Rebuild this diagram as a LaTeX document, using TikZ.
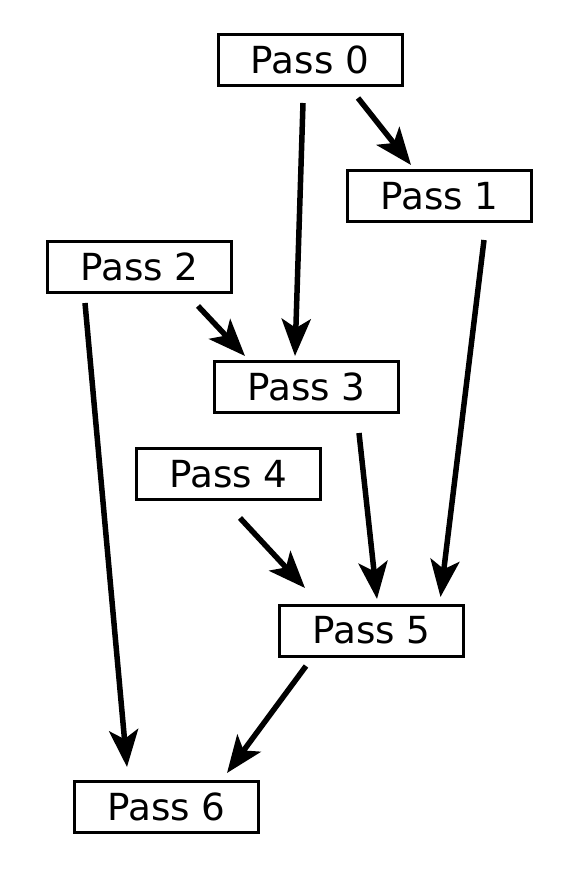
\documentclass[tikz,border=0pt]{standalone}
\usepackage{fontspec}
\setmainfont{DejaVu Sans}
\usetikzlibrary{arrows.meta}

\begin{document}
\begin{tikzpicture}[x=1pt, y=-1pt,
  pass/.style={draw, line width=3pt, minimum width=184pt, minimum height=51pt,
               inner sep=0pt, font=\fontsize{37.3}{42}\selectfont},
  dep/.style={line width=5.5pt, -{Stealth[length=37pt, width=29pt, inset=9pt]}},
]
  \useasboundingbox (0,0) rectangle (567,882);

  \node[pass] (p0) at (310,60)      {Pass 0};
  \node[pass] (p1) at (439.5,196)   {Pass 1};
  \node[pass] (p2) at (139.5,267)   {Pass 2};
  \node[pass] (p3) at (306.5,387)   {Pass 3};
  \node[pass] (p4) at (228.5,474)   {Pass 4};
  \node[pass] (p5) at (371.5,630.5) {Pass 5};
  \node[pass] (p6) at (166.5,806.5) {Pass 6};

  \draw[dep] ([shift={(-7,43)}]p0.center)    -- ([shift={(-11.5,-31)}]p3.center);
  \draw[dep] ([shift={(48,38)}]p0.center)    -- ([shift={(-28.5,-31)}]p1.center);
  \draw[dep] ([shift={(44.5,44)}]p1.center)  -- ([shift={(69,-33.5)}]p5.center);
  \draw[dep] ([shift={(58.5,39)}]p2.center)  -- ([shift={(-61.5,-31)}]p3.center);
  \draw[dep] ([shift={(-54.5,36)}]p2.center) -- ([shift={(-39.5,-39.5)}]p6.center);
  \draw[dep] ([shift={(52.5,46)}]p3.center)  -- ([shift={(5.5,-31.5)}]p5.center);
  \draw[dep] ([shift={(11.5,44)}]p4.center)  -- ([shift={(-66.5,-42.5)}]p5.center);
  \draw[dep] ([shift={(-65.5,35.5)}]p5.center) -- ([shift={(60.5,-33.5)}]p6.center);
\end{tikzpicture}
\end{document}
